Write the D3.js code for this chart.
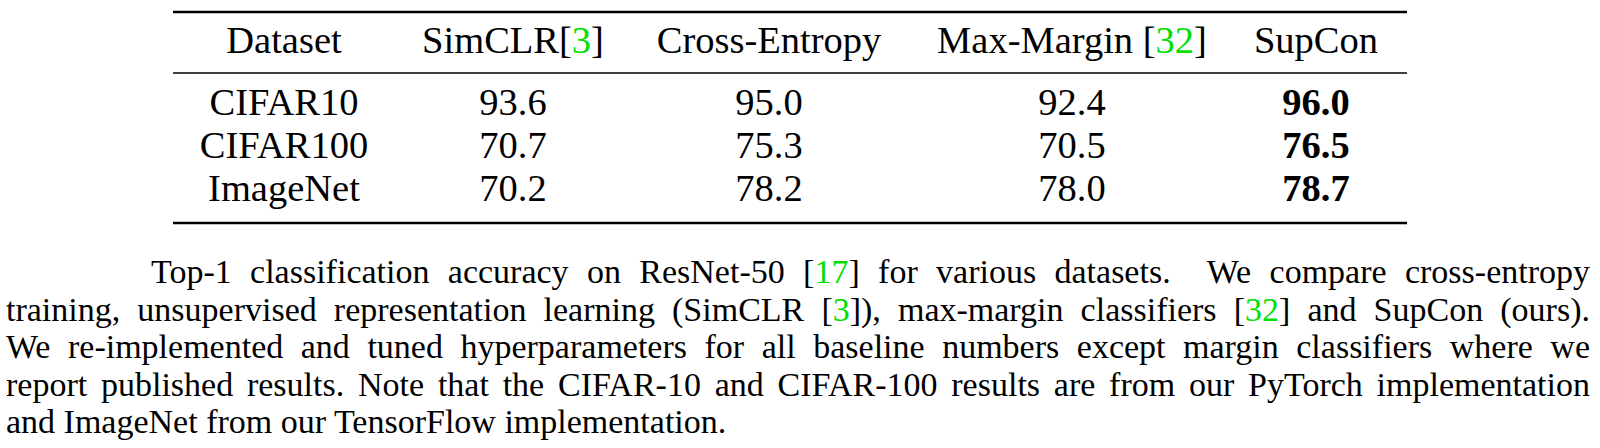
<!DOCTYPE html>
<html><head><meta charset="utf-8">
<script src="https://cdn.jsdelivr.net/npm/d3@7"></script>
<style>body{margin:0;background:#fff}</style></head>
<body><svg id="c" width="1600" height="448"></svg>
<script>
const headers = [["Dataset"],["SimCLR","[3]"],["Cross-Entropy"],["Max-Margin ","[32]"],["SupCon"]];
const datasets = ["CIFAR10","CIFAR100","ImageNet"];
const simclr = [93.6,70.7,70.2];
const crossEntropy = [95.0,75.3,78.2];
const maxMargin = [92.4,70.5,78.0];
const supcon = [96.0,76.5,78.7];
const captionLines = [
 [["Top-1 classification accuracy on ResNet-50 "],["[17]",1],[" for various datasets.  We compare cross-entropy"]],
 [["training, unsupervised representation learning (SimCLR "],["[3]",1],["), max-margin classifiers "],["[32]",1],[" and SupCon (ours)."]],
 [["We re-implemented and tuned hyperparameters for all baseline numbers except margin classifiers where we"]],
 [["report published results. Note that the CIFAR-10 and CIFAR-100 results are from our PyTorch implementation"]],
 [["and ImageNet from our TensorFlow implementation."]]
];
const svg = d3.select("#c");
const font = "'Liberation Serif','Times New Roman',serif";
const green = "#00e000";
const x = d3.scaleOrdinal().domain(d3.range(5)).range([284,513,769,1072,1316]);
const y = d3.scaleOrdinal().domain(d3.range(4)).range([53,115,158,201]);
[12,73,223].forEach((ry,i)=>svg.append("line").attr("x1",173).attr("x2",1407).attr("y1",ry).attr("y2",ry)
  .attr("stroke","#000").attr("stroke-width",i==1?1.5:2.4));
headers.forEach((h,i)=>{
  const t = svg.append("text").attr("x",x(i)).attr("y",y(0)).attr("text-anchor","middle")
    .attr("font-family",font).attr("font-size",38.5);
  t.append("tspan").text(h[0]);
  if(h[1]){ const s=h[1]; t.append("tspan").text("[");t.append("tspan").attr("fill",green).text(s.slice(1,-1));t.append("tspan").text("]"); }
});
const cols=[datasets,simclr,crossEntropy,maxMargin,supcon];
datasets.forEach((d,r)=>{
  cols.forEach((col,c)=>{
    svg.append("text").attr("x",x(c)).attr("y",y(r+1)).attr("text-anchor","middle")
      .attr("font-family",font).attr("font-size",38.5).attr("font-weight",c==4?"bold":"normal")
      .text(typeof col[r]==="number"?col[r].toFixed(1):col[r]);
  });
});
const cy = [283,320.5,358,396,433];
captionLines.forEach((line,li)=>{
  const x0 = li==0?151:6, x1=1590;
  const t = svg.append("text").attr("x",x0).attr("y",cy[li]).attr("font-family",font).attr("font-size",34)
    .attr("xml:space","preserve").style("white-space","pre");
  line.forEach(seg=>{
    if(seg[1]){ t.append("tspan").text("[");t.append("tspan").attr("fill",green).text(seg[0].slice(1,-1));t.append("tspan").text("]"); }
    else t.append("tspan").text(seg[0]);
  });
  if(li<4){
    const w=t.node().getComputedTextLength();
    const txt=line.map(s=>s[0]).join("");
    const n=(txt.match(/ /g)||[]).length;
    t.attr("word-spacing",(x1-x0-w)/n);
  }
});
</script></body></html>
